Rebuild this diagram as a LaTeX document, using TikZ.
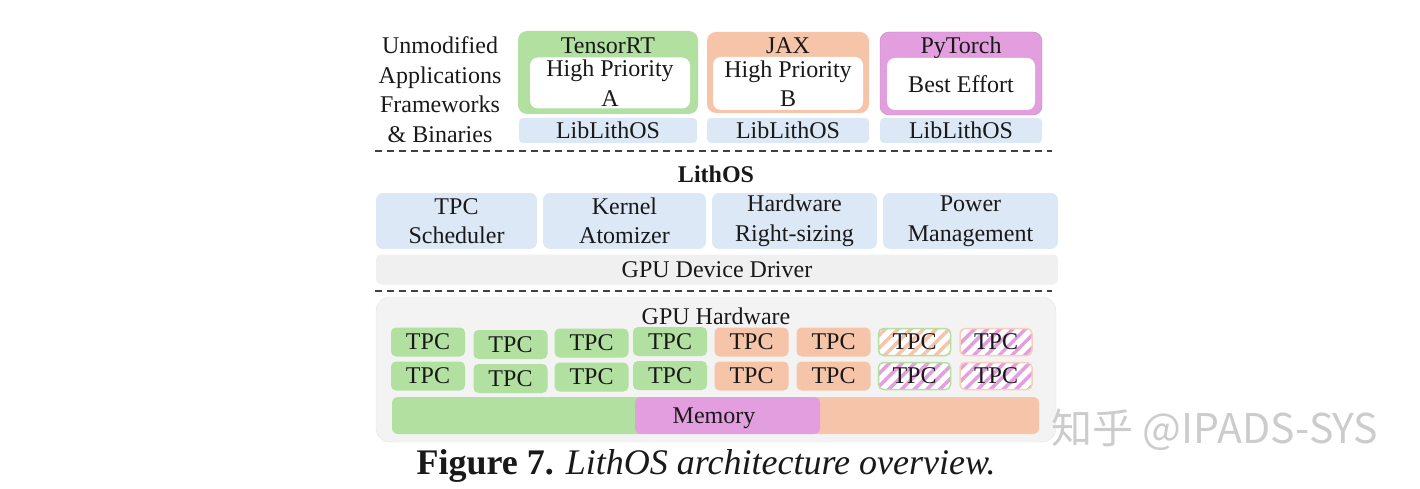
\documentclass[tikz,border=0pt]{standalone}
\usepackage{fontspec}
\setmainfont{Liberation Serif}
\newfontfamily\cjkfont{Noto Sans CJK SC}
\usetikzlibrary{positioning,patterns.meta}

\definecolor{trtgreen}{RGB}{177,224,160}
\definecolor{jaxorange}{RGB}{246,196,168}
\definecolor{ptmagenta}{RGB}{226,158,222}
\definecolor{libblue}{RGB}{220,232,245}
\definecolor{drvgray}{RGB}{240,240,240}
\definecolor{hwgray}{RGB}{243,243,243}

\begin{document}
\begin{tikzpicture}[
		x=1pt,y=-1pt,
		every node/.style={font=\fontsize{24}{29.5}\selectfont,text=black!90,inner sep=0pt,outer sep=0pt},
		appbox/.style={fill=#1,rounded corners=9pt},
		innerbox/.style={fill=white,rounded corners=8pt,align=center},
		libbox/.style={fill=libblue,rounded corners=4pt,minimum height=25pt},
		modbox/.style={fill=libblue,rounded corners=7pt,minimum height=56pt,align=center},
		tpcbox/.style={fill=#1,rounded corners=5pt,minimum width=74pt,minimum height=29pt},
		hatchbox/.style 2 args={rounded corners=5pt,minimum width=72pt,minimum height=27pt,
			draw=#2,line width=1.5pt,preaction={fill=white},
			pattern={Lines[angle=45,distance=9pt,line width=3.5pt]},pattern color=#1},
		membox/.style={fill=#1,rounded corners=6pt,minimum height=37pt},
		sepline/.style={line width=2pt,black!75,dash pattern=on 7pt off 5pt}
		]
		\useasboundingbox (0,0) rectangle (1420,489);
		% applications
		\node[align=center] (apps) at (440,89.5) {Unmodified\\Applications\\Frameworks\\\& Binaries};
		\node[appbox=trtgreen,minimum width=180pt,minimum height=83pt] (trt) at (608,72.5) {};
		\node (trttitle) at (608,46) {TensorRT};
		\node[innerbox,minimum width=160pt,minimum height=51pt] (trtin) at (610,83) {High Priority\\A};
		\node[appbox=jaxorange,minimum width=162pt,minimum height=81pt] (jax) at (788,72.5) {};
		\node (jaxtitle) at (788,46) {JAX};
		\node[innerbox,minimum width=150pt,minimum height=53pt] (jaxin) at (788,83.5) {High Priority\\B};
		\node[appbox=ptmagenta,draw=ptmagenta!85!black,minimum width=162pt,minimum height=83pt] (pt) at (961,73.5) {};
		\node (pttitle) at (961,48) {PyTorch};
		\node[innerbox,minimum width=148pt,minimum height=52pt] (ptin) at (961,84) {Best Effort};
		\node[libbox,minimum width=178pt] (trtlib) at (608,130.5) {LibLithOS};
		\node[libbox,minimum width=162pt] (jaxlib) at (788,130.5) {LibLithOS};
		\node[libbox,minimum width=162pt] (ptlib) at (961,130.5) {LibLithOS};
		\coordinate (sepAl) at (375,151);
		\coordinate (sepAr) at (1052,151);
		\draw[sepline] (sepAl) -- (sepAr);
		% LithOS
		\node[font=\fontsize{24}{29.5}\selectfont\bfseries] (lithos) at (716,174) {LithOS};
		\node[modbox,minimum width=161pt] (sched) at (456.5,221) {TPC\\Scheduler};
		\node[modbox,minimum width=163pt] (atom) at (624.5,221) {Kernel\\Atomizer};
		\node[modbox,minimum width=165pt] (rsize) at (794.5,221) {Hardware\\Right-sizing};
		\node[modbox,minimum width=175pt] (power) at (970.5,221) {Power\\Management};
		\node[fill=drvgray,rounded corners=5pt,minimum width=682pt,minimum height=30pt] (driver) at (717,269.5) {GPU Device Driver};
		\coordinate (sepBl) at (375,291);
		\coordinate (sepBr) at (1052,291);
		\draw[sepline] (sepBl) -- (sepBr);
		% GPU hardware
		\node[fill=hwgray,draw=black!10,rounded corners=14pt,minimum width=680pt,minimum height=145pt] (hw) at (716,369.5) {};
		\node (hwtitle) at (716,316) {GPU Hardware};
		\node[tpcbox=trtgreen] (t1a) at (428,342) {TPC};
		\node[tpcbox=trtgreen,below=5pt of t1a] (t1b) {TPC};
		\node[tpcbox=trtgreen] (t2a) at (510.5,344.5) {TPC};
		\node[tpcbox=trtgreen,below=5pt of t2a] (t2b) {TPC};
		\node[tpcbox=trtgreen] (t3a) at (591.5,343) {TPC};
		\node[tpcbox=trtgreen,below=5pt of t3a] (t3b) {TPC};
		\node[tpcbox=trtgreen] (t4a) at (670,341.5) {TPC};
		\node[tpcbox=trtgreen,below=5pt of t4a] (t4b) {TPC};
		\node[tpcbox=jaxorange] (t5a) at (751.5,342) {TPC};
		\node[tpcbox=jaxorange,below=5pt of t5a] (t5b) {TPC};
		\node[tpcbox=jaxorange] (t6a) at (833.5,342) {TPC};
		\node[tpcbox=jaxorange,below=5pt of t6a] (t6b) {TPC};
		\node[hatchbox={jaxorange}{trtgreen}] (t7a) at (914.5,342) {TPC};
		\node[hatchbox={ptmagenta}{trtgreen},below=7pt of t7a] (t7b) {TPC};
		\node[hatchbox={ptmagenta}{jaxorange!80}] (t8a) at (996,342) {TPC};
		\node[hatchbox={ptmagenta}{jaxorange!80},below=7pt of t8a] (t8b) {TPC};
		\node[membox=trtgreen,minimum width=258pt] (memA) at (521,415.5) {};
		\node[membox=jaxorange,minimum width=229pt] (memB) at (924.5,415.5) {};
		\node[membox=ptmagenta,minimum width=185pt] (memC) at (727.5,415.5) {};
		\node (memtext) at (714,418) {Memory};
		% caption and mark
		\node[font=\fontsize{36}{40}\selectfont] (caption) at (706,466) {\textbf{Figure 7.} \textit{LithOS architecture overview.}};
		\node[font=\fontsize{41}{44}\cjkfont,text=black!20] (mark) at (1215,430) {知乎 @IPADS-SYS};
	\end{tikzpicture}
\end{document}
